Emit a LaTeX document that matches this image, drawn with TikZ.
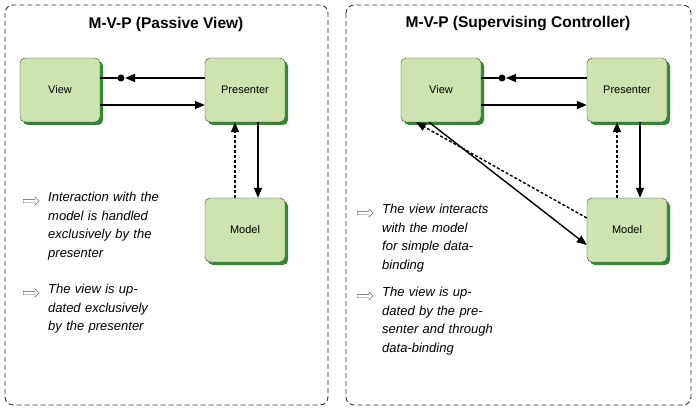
\documentclass[tikz,border=0pt]{standalone}
\usepackage{fontspec}
\setmainfont{Liberation Sans}
\usetikzlibrary{arrows.meta,shadows,shapes.arrows}
\definecolor{boxg}{HTML}{CDE3B0}
\definecolor{shg}{HTML}{2E8B2E}
\begin{document}
\begin{tikzpicture}[x=1pt,y=-1pt,
  box/.style={draw=black!75,fill=boxg,rounded corners=5pt,minimum width=80pt,minimum height=64pt,font=\fontsize{11}{13}\selectfont,
    drop shadow={shadow xshift=3pt,shadow yshift=-3pt,fill=shg,opacity=1}},
  panel/.style={draw=black!80,dash pattern=on 5pt off 3pt,rounded corners=8pt,line width=0.9pt},
  title/.style={font=\bfseries\fontsize{15.5}{18}\selectfont},
  arr/.style={-{Triangle[length=10pt,width=8pt]},line width=1.4pt},
  darr/.style={arr,dash pattern=on 3pt off 2pt},
  txt/.style={anchor=north west,align=left,font=\itshape\fontsize{13}{18.5}\selectfont,text width=112pt,inner sep=0pt},
  bul/.style={anchor=west,single arrow,draw=black!70,fill=white,minimum height=16pt,single arrow head extend=2.5pt,inner sep=1.5pt}]
\useasboundingbox (0,0) rectangle (698,414);
\draw[panel] (5,5) rectangle (328,405);
\draw[panel] (346,5) rectangle (691,405);
\node[title] (t1) at (166,24) {M-V-P (Passive View)};
\node[title] (t2) at (518,24) {M-V-P (Supervising Controller)};
% left
\node[box] (v1) at (60,90) {View};
\node[box] (p1) at (245,90) {Presenter};
\node[box] (m1) at (245,230) {Model};
\coordinate (d1) at (121,78);
\draw[line width=1.4pt] (v1.east|-d1) -- (d1);
\fill (d1) circle (3.5pt);
\draw[arr] (p1.west|-d1) -- ([xshift=4pt]d1);
\draw[arr] ([yshift=-15pt]v1.east) -- ([yshift=-15pt]p1.west);
\draw[arr] ([xshift=13pt]p1.south) -- ([xshift=13pt]m1.north);
\draw[darr] ([xshift=-10pt]m1.north) -- ([xshift=-10pt]p1.south);
\node[bul] (b1) at (23,201) {};
\node[txt] (x1) at (48,192) {\raggedright\hyphenpenalty=10000 Interaction with the model is handled exclusively by the presenter};
\node[bul] (b2) at (23,293) {};
\node[txt] (x2) at (48,284) {\raggedright\hyphenpenalty=10000 The view is updated exclusively by the presenter};
% right
\node[box] (v2) at (441,90) {View};
\node[box] (p2) at (627,90) {Presenter};
\node[box] (m2) at (627,230) {Model};
\coordinate (d2) at (502,78);
\draw[line width=1.4pt] (v2.east|-d2) -- (d2);
\fill (d2) circle (3.5pt);
\draw[arr] (p2.west|-d2) -- ([xshift=4pt]d2);
\draw[arr] ([yshift=-15pt]v2.east) -- ([yshift=-15pt]p2.west);
\draw[arr] ([xshift=13pt]p2.south) -- ([xshift=13pt]m2.north);
\draw[darr] ([xshift=-10pt]m2.north) -- ([xshift=-10pt]p2.south);
\draw[arr] ([xshift=-12pt]v2.south) -- ([yshift=-15pt]m2.west);
\draw[darr] ([yshift=12pt]m2.west) -- ([xshift=-25pt]v2.south);
\node[bul] (b3) at (357,213) {};
\node[txt] (x3) at (382,204) {\raggedright The view interacts with the model for simple data-binding};
\node[bul] (b4) at (357,296) {};
\node[txt] (x4) at (382,287) {\raggedright The view is updated by the presenter and through data-binding};
\end{tikzpicture}
\end{document}
